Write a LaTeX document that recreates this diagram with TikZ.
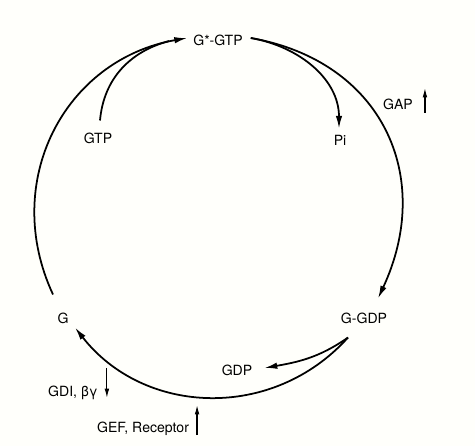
\documentclass[tikz,border=0pt]{standalone}
\usepackage{fontspec}
\setmainfont{TeX Gyre Heros}
\usetikzlibrary{arrows.meta,calc}
\definecolor{paper}{RGB}{255,255,251}

\begin{document}
\begin{tikzpicture}
    % 样式: 文字结点, 大循环线, 分支线, 调控小箭头
    [x=0.03cm, y=0.03cm,
    txt/.style={inner sep=0.333em, font=\fontsize{12}{14}\selectfont},
    loopline/.style={line width=1.5pt, -{Latex[length=11pt,width=5.5pt]}},
    branch/.style={line width=1.5pt},
    ctrl/.style={line width=1pt, -{Latex[length=8pt,width=4pt]}}]

    % 背景与画布大小
    \fill[paper] (0,0) rectangle (475,446);
    \useasboundingbox (0,0) rectangle (475,446);

    % 各状态文字结点
    \foreach \nm/\x/\y/\tx in {gs/218/406/{G*-GTP}, gtp/98/308/{GTP}, pi/340/306/{Pi},
        gap/398/342/{GAP}, ggdp/364/128/{G-GDP}, gdp/237/76/{GDP}, g/63/128/{G},
        gdi/73/53/{GDI, βγ}, gef/143/17/{GEF, Receptor}}
    \node[txt] (\nm) at (\x,\y) {\tx};

    % G 到 G*-GTP (左侧大弧), GTP 汇入
    \draw[loopline] ($(g.north)+(-10,14)$) to[out=115,in=190,looseness=1.1] ($(gs.west)+(-2,2)$);
    \draw[branch] ($(gtp.north)+(2,8)$) to[out=85,in=195] ($(gs.west)+(-20,-1)$);

    % G*-GTP 到 G-GDP (右侧大弧), 放出 Pi
    \draw[loopline] ($(gs.east)+(4,2)$) to[out=-10,in=65,looseness=1.18] ($(ggdp.north)+(14,10)$);
    \draw[loopline] ($(gs.east)+(4,2)$) to[out=-10,in=90] ($(pi.north)+(-1,2)$);

    % G-GDP 到 G (下方弧), 放出 GDP
    \draw[loopline] ($(ggdp.south)+(-16,-10)$) to[out=-132,in=-52,looseness=1.05] ($(g.south)+(12,0)$);
    \draw[loopline] ($(ggdp.south)+(-16,-10)$) to[out=-145,in=10] ($(gdp.east)+(8,2)$);

    % 调控因子的小箭头
    \draw[ctrl] ($(gap.east)+(8,-9)$) -- ++(0,25);
    \draw[ctrl] ($(gdi.east)+(5,25)$) -- ++(0,-30);
    \draw[ctrl] ($(gef.east)+(4,-6)$) -- ++(0,30);

\end{tikzpicture}
\end{document}
